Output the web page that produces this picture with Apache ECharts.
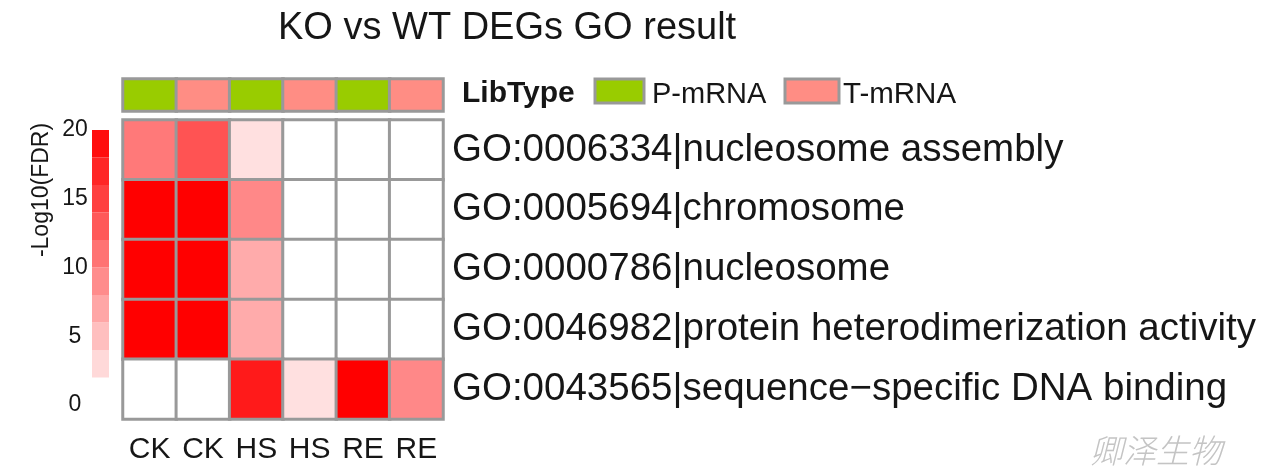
<!DOCTYPE html>
<html>
<head>
<meta charset="utf-8">
<title>KO vs WT DEGs GO result</title>
<script src="https://cdn.jsdelivr.net/npm/echarts@6/dist/echarts.min.js"></script>
<style>
  html, body { margin: 0; padding: 0; background: #fff; }
  #chart { width: 1265px; height: 474px; }
</style>
</head>
<body>
<div id="chart"></div>
<script>
// samples (columns) and their library type
var samples = ['CK', 'CK', 'HS', 'HS', 'RE', 'RE']
var libTypes = ['P-mRNA', 'T-mRNA', 'P-mRNA', 'T-mRNA', 'P-mRNA', 'T-mRNA']
var libTypeNames = ['P-mRNA', 'T-mRNA']

// GO terms (rows, top to bottom)
var goTerms = [
  'GO:0006334|nucleosome assembly',
  'GO:0005694|chromosome',
  'GO:0000786|nucleosome',
  'GO:0046982|protein heterodimerization activity',
  'GO:0043565|sequence\u2212specific DNA binding'
]

// -log10(FDR) per row, one value per sample (0 = not significant)
var fdrAssembly = [10.5, 13.5, 2.4, 0, 0, 0]
var fdrChromosome = [20, 20, 9.3, 0, 0, 0]
var fdrNucleosome = [20, 20, 6.6, 0, 0, 0]
var fdrHeterodimer = [20, 20, 6.6, 0, 0, 0]
var fdrDnaBinding = [0, 0, 18, 2.4, 20, 9.3]
var fdrRows = [fdrAssembly, fdrChromosome, fdrNucleosome, fdrHeterodimer, fdrDnaBinding]

// colour legend breaks and tick labels
var legendBreaks = [2, 4, 6, 8, 10, 12, 14, 16, 18, 20]
var legendTicks = [0, 5, 10, 15, 20]

var FONT = '"Liberation Sans", Arial, Helvetica, sans-serif'
var BORDER = '#999999'
var TEXT = '#161616'
var typeColors = ['#99CC00', '#FF8D84']
var scaleMax = 20

function redScale(v) {
  var t = Math.max(0, Math.min(1, v / scaleMax))
  var c = Math.round(255 * (1 - t))
  return 'rgb(255,' + c + ',' + c + ')'
}

var heatData = []
fdrRows.forEach(function (row, r) {
  row.forEach(function (v, c) {
    heatData.push([c, r, v])
  })
})

var annoData = libTypes.map(function (t, c) {
  return [c, 0, libTypeNames.indexOf(t)]
})

var legendSeries = [{
  type: 'bar',
  xAxisIndex: 2,
  yAxisIndex: 2,
  stack: 'legend',
  barWidth: '100%',
  silent: true,
  itemStyle: {color: 'transparent'},
  data: [legendBreaks[0]]
}]
for (var i = 0; i < legendBreaks.length - 1; i++) {
  legendSeries.push({
    type: 'bar',
    xAxisIndex: 2,
    yAxisIndex: 2,
    stack: 'legend',
    barWidth: '100%',
    silent: true,
    itemStyle: {color: redScale((legendBreaks[i] + legendBreaks[i + 1]) / 2)},
    data: [legendBreaks[i + 1] - legendBreaks[i]]
  })
}

var chart = echarts.init(document.getElementById('chart'))

chart.setOption({
  animation: false,
  backgroundColor: '#ffffff',
  title: {
    text: 'KO vs WT DEGs GO result',
    left: 278,
    top: 10,
    padding: 0,
    textStyle: {fontFamily: FONT, fontSize: 38, fontWeight: 'normal', color: TEXT}
  },
  grid: [
    {left: 123, top: 120, width: 320, height: 299},
    {left: 123, top: 79, width: 320, height: 32},
    {left: 92, top: 130, width: 17, height: 275}
  ],
  xAxis: [
    {
      type: 'category',
      gridIndex: 0,
      data: samples,
      axisLine: {show: false},
      axisTick: {show: false},
      splitLine: {show: false},
      axisLabel: {interval: 0, fontFamily: FONT, fontSize: 30, color: TEXT, margin: 16}
    },
    {
      type: 'category',
      gridIndex: 1,
      data: samples,
      show: false
    },
    {
      type: 'category',
      gridIndex: 2,
      data: [''],
      show: false
    }
  ],
  yAxis: [
    {
      type: 'category',
      gridIndex: 0,
      data: goTerms,
      inverse: true,
      position: 'right',
      axisLine: {show: false},
      axisTick: {show: false},
      splitLine: {show: false},
      axisLabel: {
        interval: 0,
        fontFamily: FONT,
        fontSize: 38.5,
        color: TEXT,
        margin: 9,
        padding: [10, 0, 0, 0]
      }
    },
    {
      type: 'category',
      gridIndex: 1,
      data: ['LibType'],
      show: false
    },
    {
      type: 'value',
      gridIndex: 2,
      min: legendTicks[0],
      max: legendTicks[legendTicks.length - 1],
      interval: legendTicks[1] - legendTicks[0],
      axisLine: {show: false},
      axisTick: {show: false},
      splitLine: {show: false},
      axisLabel: {fontFamily: FONT, fontSize: 23, color: TEXT, margin: 17, align: 'center'}
    }
  ],
  visualMap: [
    {
      type: 'continuous',
      seriesIndex: 0,
      show: false,
      min: 0,
      max: scaleMax,
      inRange: {color: ['#ffffff', '#ff0000']}
    },
    {
      type: 'piecewise',
      seriesIndex: 1,
      show: false,
      dimension: 2,
      pieces: [
        {value: 0, color: typeColors[0]},
        {value: 1, color: typeColors[1]}
      ]
    }
  ],
  graphic: [
    {
      type: 'text',
      x: 42,
      y: 190,
      rotation: Math.PI / 2,
      style: {
        text: '-Log10(FDR)',
        font: '23px ' + FONT,
        fill: TEXT,
        align: 'center',
        verticalAlign: 'middle'
      }
    },
    {
      type: 'text',
      left: 462,
      top: 79,
      style: {text: 'LibType', font: 'bold 30px ' + FONT, fill: TEXT}
    },
    {
      type: 'rect',
      shape: {x: 595, y: 79, width: 49, height: 24},
      style: {fill: typeColors[0], stroke: BORDER, lineWidth: 3}
    },
    {
      type: 'text',
      left: 652,
      top: 80,
      style: {text: libTypeNames[0], font: '29px ' + FONT, fill: TEXT}
    },
    {
      type: 'rect',
      shape: {x: 785, y: 79, width: 54, height: 24},
      style: {fill: typeColors[1], stroke: BORDER, lineWidth: 3}
    },
    {
      type: 'text',
      left: 843,
      top: 80,
      style: {text: libTypeNames[1], font: '29.5px ' + FONT, fill: TEXT}
    },
    {
      type: 'text',
      left: 1090,
      top: 434,
      style: {
        text: '卿泽生物',
        font: 'italic 300 33px "Noto Sans CJK SC", sans-serif',
        fill: '#c4c4c4'
      }
    }
  ],
  series: [
    {
      type: 'heatmap',
      xAxisIndex: 0,
      yAxisIndex: 0,
      data: heatData,
      itemStyle: {borderColor: BORDER, borderWidth: 3},
      emphasis: {disabled: true}
    },
    {
      type: 'heatmap',
      xAxisIndex: 1,
      yAxisIndex: 1,
      data: annoData,
      itemStyle: {borderColor: BORDER, borderWidth: 3},
      emphasis: {disabled: true}
    }
  ].concat(legendSeries)
})

window.addEventListener('resize', function () {
  chart.resize()
})
</script>
</body>
</html>
